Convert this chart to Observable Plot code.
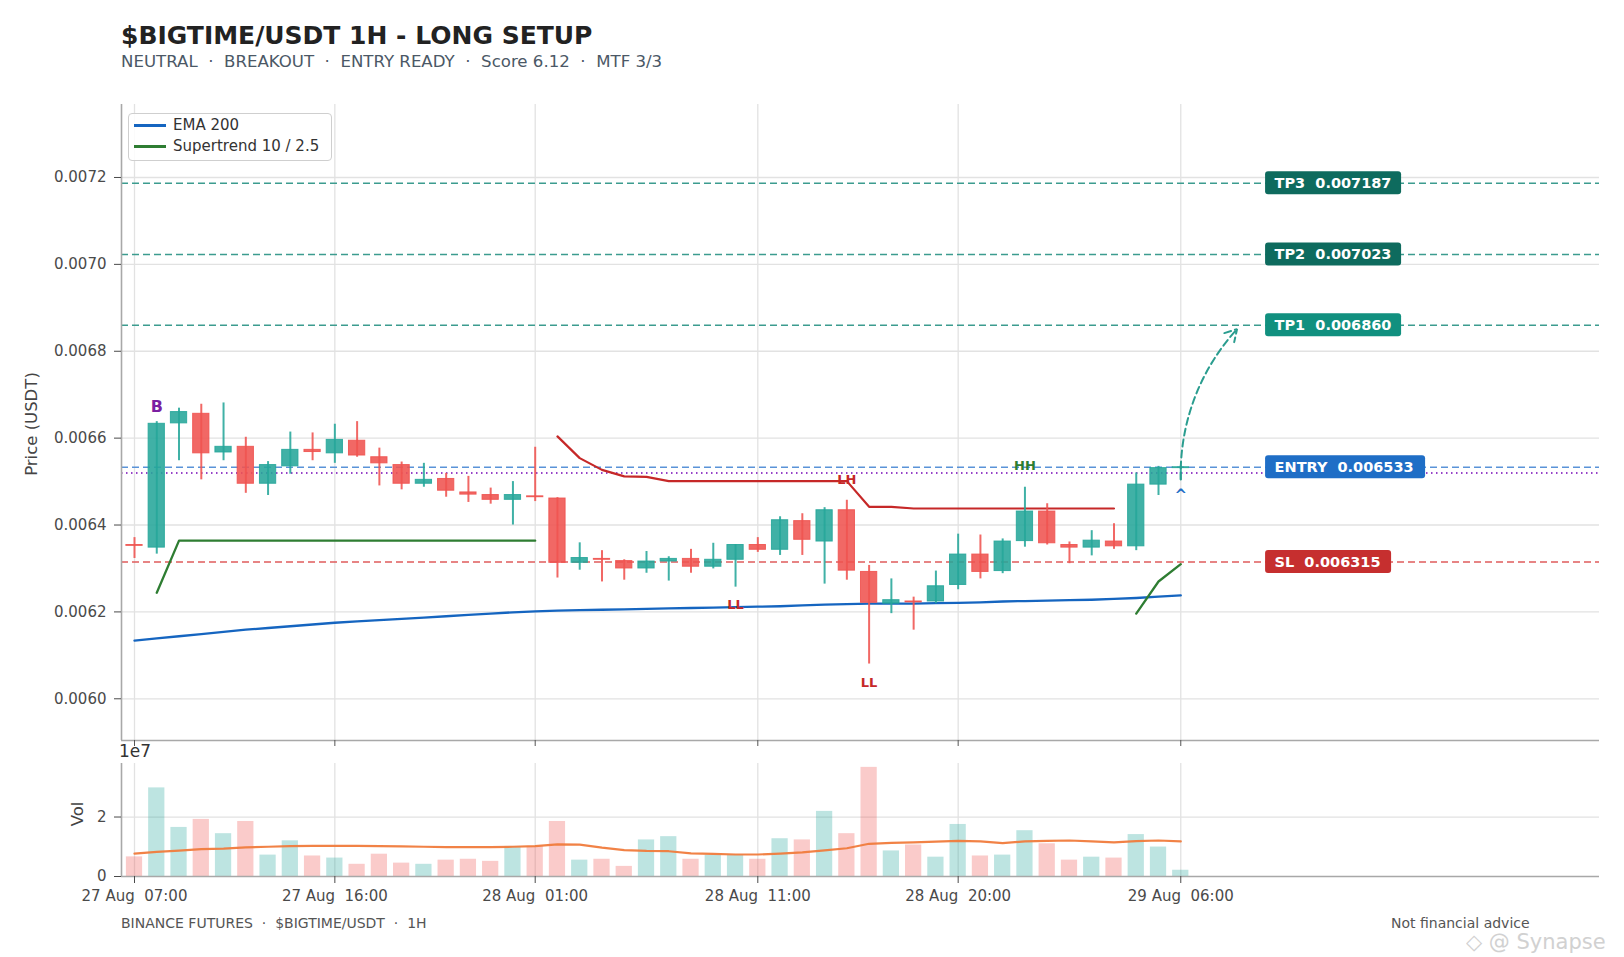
<!DOCTYPE html>
<html>
<head>
<meta charset="utf-8">
<script src="https://cdn.jsdelivr.net/npm/d3@7"></script>
<script src="https://cdn.jsdelivr.net/npm/@observablehq/plot@0.6"></script>
<style>
  body { margin: 0; background: #fff; font-family: "DejaVu Sans", sans-serif; }
  #root { position: relative; width: 1624px; height: 957px; overflow: hidden; background: #fff; }
  .abs { position: absolute; white-space: pre; line-height: 1; }
  .panel { position: absolute; left: 0; }
  .legend { position: absolute; border: 1px solid #cfcfcf; border-radius: 4px; background: rgba(255,255,255,0.85); box-sizing: border-box; }
  .sw { position: absolute; height: 3px; }
  .lt { position: absolute; font-size: 15px; color: #333; line-height: 1; white-space: pre; }
</style>
</head>
<body>
<div id="root">
  <div class="abs" style="left:121px;top:23px;font-size:25px;font-weight:bold;color:#222;">$BIGTIME/USDT 1H - LONG SETUP</div>
  <div class="abs" style="left:121px;top:54px;font-size:16.6px;color:#4b5866;">NEUTRAL  ·  BREAKOUT  ·  ENTRY READY  ·  Score 6.12  ·  MTF 3/3</div>
  <div id="pricePanel" class="panel" style="top:84px;"></div>
  <div id="volPanel" class="panel" style="top:753px;"></div>
  <div class="legend" style="left:128px;top:113px;width:204px;height:48px;">
    <div class="sw" style="left:5px;top:10px;width:32px;background:#1565c0;"></div>
    <div class="lt" style="left:44px;top:4px;">EMA 200</div>
    <div class="sw" style="left:5px;top:31px;width:32px;background:#2e7d32;"></div>
    <div class="lt" style="left:44px;top:25px;">Supertrend 10 / 2.5</div>
  </div>
  <div class="abs" style="left:32px;top:424px;font-size:16.5px;color:#444;transform:translate(-50%,-50%) rotate(-90deg);">Price (USDT)</div>
  <div class="abs" style="left:78px;top:814px;font-size:16.5px;color:#444;transform:translate(-50%,-50%) rotate(-90deg);">Vol</div>
  <div class="abs" style="left:119px;top:743px;font-size:17px;color:#333;">1e7</div>
  <div class="abs" style="left:121px;top:916px;font-size:14px;color:#555;">BINANCE FUTURES  ·  $BIGTIME/USDT  ·  1H</div>
  <div class="abs" style="left:1391px;top:916px;font-size:14px;color:#555;">Not financial advice</div>
  <div class="abs" style="left:1466px;top:932px;font-size:21px;color:#c9c9c9;opacity:0.85;">◇ @ Synapse</div>
</div>
<script>
// ---------- data ----------
const tickIdx = [0, 9, 18, 28, 37, 47];
const tickLabels = ["27 Aug\u00a0 07:00", "27 Aug\u00a0 16:00", "28 Aug\u00a0 01:00", "28 Aug\u00a0 11:00", "28 Aug\u00a0 20:00", "29 Aug\u00a0 06:00"];
const priceTicks = [0.0060, 0.0062, 0.0064, 0.0066, 0.0068, 0.0070, 0.0072];

const opens = [0.006354,0.006348,0.006634,0.006656,0.006567,0.006580,0.006495,0.006535,0.006573,0.006565,
  0.006594,0.006556,0.006538,0.006495,0.006506,0.006475,0.006469,0.006458,0.006466,0.006461,
  0.006313,0.006322,0.006317,0.006300,0.006316,0.006322,0.006304,0.006320,0.006354,0.006343,
  0.006409,0.006362,0.006434,0.006292,0.006219,0.006224,0.006224,0.006262,0.006332,0.006294,
  0.006363,0.006431,0.006354,0.006348,0.006362,0.006351,0.006493,0.006531];
const highs = [0.006371,0.006638,0.006669,0.006678,0.006681,0.006602,0.006546,0.006614,0.006612,0.006632,
  0.006638,0.006577,0.006545,0.006542,0.006519,0.006512,0.006485,0.006500,0.006579,0.006463,
  0.006359,0.006341,0.006320,0.006339,0.006327,0.006344,0.006358,0.006355,0.006371,0.006419,
  0.006426,0.006440,0.006457,0.006307,0.006276,0.006234,0.006294,0.006379,0.006377,0.006368,
  0.006487,0.006449,0.006361,0.006387,0.006403,0.006520,0.006535,0.006536];
const lows = [0.006323,0.006333,0.006548,0.006504,0.006548,0.006473,0.006468,0.006517,0.006548,0.006542,
  0.006556,0.006490,0.006481,0.006487,0.006464,0.006452,0.006448,0.006400,0.006454,0.006278,
  0.006296,0.006269,0.006273,0.006289,0.006271,0.006289,0.006299,0.006257,0.006337,0.006330,
  0.006330,0.006264,0.006273,0.006080,0.006196,0.006158,0.006219,0.006251,0.006276,0.006288,
  0.006349,0.006354,0.006311,0.006329,0.006344,0.006341,0.006468,0.006503];
const closes = [0.006352,0.006633,0.006660,0.006565,0.006580,0.006495,0.006538,0.006573,0.006568,0.006596,
  0.006560,0.006542,0.006495,0.006504,0.006479,0.006470,0.006458,0.006469,0.006464,0.006313,
  0.006324,0.006320,0.006300,0.006316,0.006322,0.006304,0.006320,0.006354,0.006343,0.006411,
  0.006366,0.006434,0.006295,0.006221,0.006227,0.006222,0.006259,0.006332,0.006292,0.006362,
  0.006431,0.006358,0.006348,0.006364,0.006351,0.006493,0.006531,0.006533];
const volumes = [6.6e6,2.98e7,1.65e7,1.92e7,1.44e7,1.85e7,7.2e6,1.20e7,6.9e6,6.2e6,
  4.1e6,7.5e6,4.5e6,4.1e6,5.5e6,5.8e6,5.1e6,1.01e7,1.01e7,1.85e7,
  5.5e6,5.8e6,3.4e6,1.23e7,1.34e7,5.8e6,7.2e6,7.2e6,5.8e6,1.27e7,
  1.23e7,2.19e7,1.44e7,3.67e7,8.6e6,1.06e7,6.5e6,1.75e7,6.9e6,7.2e6,
  1.54e7,1.10e7,5.5e6,6.5e6,6.2e6,1.41e7,9.9e6,2.1e6];
const volMA = [7.7e6,8.3e6,8.7e6,9.2e6,9.4e6,9.8e6,1.0e7,1.02e7,1.03e7,1.03e7,
  1.03e7,1.02e7,1.01e7,1.0e7,9.9e6,9.9e6,9.9e6,1.0e7,1.02e7,1.08e7,
  1.07e7,9.7e6,8.9e6,8.6e6,8.5e6,7.8e6,7.6e6,7.4e6,7.4e6,7.7e6,
  8.1e6,8.8e6,9.5e6,1.10e7,1.13e7,1.15e7,1.17e7,1.20e7,1.18e7,1.12e7,
  1.18e7,1.20e7,1.21e7,1.18e7,1.15e7,1.19e7,1.21e7,1.18e7];
const ema200 = [0.006134,0.006139,0.006144,0.006149,0.006154,0.006159,0.006163,0.006167,0.006171,0.006175,
  0.006178,0.006181,0.006184,0.006187,0.006190,0.006193,0.006196,0.006199,0.006201,0.006203,
  0.006204,0.006205,0.006206,0.006207,0.006208,0.006209,0.006210,0.006211,0.006212,0.006213,
  0.006215,0.006217,0.006218,0.006219,0.006219,0.006219,0.006220,0.006221,0.006222,0.006224,
  0.006225,0.006226,0.006227,0.006228,0.006230,0.006232,0.006235,0.006238];
const N = null;
const stUp = [N,0.006244,0.006364,0.006364,0.006364,0.006364,0.006364,0.006364,0.006364,0.006364,
  0.006364,0.006364,0.006364,0.006364,0.006364,0.006364,0.006364,0.006364,0.006364,N,
  N,N,N,N,N,N,N,N,N,N, N,N,N,N,N,N,N,N,N,N, N,N,N,N,N,0.006196,0.006270,0.006310];
const stDown = [N,N,N,N,N,N,N,N,N,N, N,N,N,N,N,N,N,N,N,0.006604,
  0.006554,0.006527,0.006512,0.006511,0.006501,0.006501,0.006501,0.006501,0.006501,0.006501,
  0.006501,0.006501,0.006501,0.006442,0.006442,0.006438,0.006438,0.006438,0.006438,0.006438,
  0.006438,0.006438,0.006438,0.006438,0.006438,N,N,N];

const levelNames = ["TP3", "TP2", "TP1", "ENTRY", "SL"];
const levelValues = [0.007187, 0.007023, 0.006860, 0.006533, 0.006315];
const breakoutLevel = 0.006520;

const swingLabels = ["B", "LH", "LL", "LL", "HH"];
const swingIdx = [1, 32, 27, 33, 40];
const swingPrice = [0.006673, 0.006504, 0.006217, 0.006037, 0.006536];

// ---------- styling / layout ----------
const UP = "#26a69a", DN = "#ef5350";
const xDomain = [-0.584, 65.81];
const priceDomain = [0.005904, 0.007368];
const volDomain = [0, 3.8e7];
const pxPerIdx = 22.26;
const pxPerPrice = 434500;
const half = 0.365;

const idx = d3.range(opens.length);
const candles = idx.map(i => ({
  i, o: opens[i], h: highs[i], l: lows[i], c: closes[i], v: volumes[i], ma: volMA[i],
  ema: ema200[i], up: stUp[i], dn: stDown[i], col: closes[i] >= opens[i] ? UP : DN
}));

const lineColors = {TP3: "#3c9c8f", TP2: "#3c9c8f", TP1: "#3c9c8f", ENTRY: "#5a93d8", SL: "#e05c5c"};
const boxColors = {TP3: "#0e6b5e", TP2: "#0e6b5e", TP1: "#11907f", ENTRY: "#1f6ec6", SL: "#c62f2f"};
const boxWidthPx = {TP3: 136, TP2: 136, TP1: 136, ENTRY: 160, SL: 126};
const boxX = 50.81;
const boxHalf = 11.5 / pxPerPrice;
const levels = levelNames.map((name, k) => ({
  name, value: levelValues[k], line: lineColors[name], box: boxColors[name], w: boxWidthPx[name] / pxPerIdx
}));
const swingColors = {B: "#7b1fa2", LH: "#c62828", LL: "#c62828", HH: "#2e7d32"};
const swings = swingLabels.map((t, k) => ({t, x: swingIdx[k], y: swingPrice[k], col: swingColors[t], size: t === "B" ? 16 : 13}));

const baseStyle = {fontFamily: "DejaVu Sans", fontSize: "15px", color: "#444", background: "transparent", overflow: "visible"};

const price = Plot.plot({
  width: 1624, height: 676,
  marginLeft: 121, marginRight: 25, marginTop: 20, marginBottom: 20,
  x: {type: "linear", domain: xDomain},
  y: {type: "linear", domain: priceDomain},
  style: baseStyle,
  marks: [
    Plot.gridY(priceTicks, {stroke: "#e2e2e2", strokeOpacity: 1, strokeWidth: 1.3}),
    Plot.gridX(tickIdx, {stroke: "#e2e2e2", strokeOpacity: 1, strokeWidth: 1.3}),
    Plot.ruleY(levels, {y: "value", stroke: "line", strokeWidth: 1.5, strokeDasharray: "7,4"}),
    Plot.ruleY([breakoutLevel], {stroke: "#9642c8", strokeWidth: 2, strokeDasharray: "1.5,3.5"}),
    Plot.line(candles, {x: "i", y: "ema", stroke: "#1565c0", strokeWidth: 2.3}),
    Plot.line(candles, {x: "i", y: "up", stroke: "#2e7d32", strokeWidth: 2.3}),
    Plot.line(candles, {x: "i", y: "dn", stroke: "#c62828", strokeWidth: 2.2}),
    Plot.ruleX(candles, {x: "i", y1: "l", y2: "h", stroke: "col", strokeWidth: 2, strokeOpacity: 0.88}),
    Plot.rect(candles, {
      x1: d => d.i - half, x2: d => d.i + half,
      y1: d => Math.min(d.o, d.c), y2: d => Math.max(d.o, d.c),
      fill: "col", stroke: "col", strokeWidth: 1, fillOpacity: 0.88, strokeOpacity: 0.88
    }),
    Plot.arrow([{x1: 47, y1: 0.006505, x2: 49.53, y2: 0.006851}], {
      x1: "x1", y1: "y1", x2: "x2", y2: "y2", bend: 22,
      stroke: "#2a9d8f", strokeWidth: 2, strokeDasharray: "7,4", headLength: 10, headAngle: 60
    }),
    Plot.text([{x: 47, y: 0.006469}], {x: "x", y: "y", text: () => "^", fill: "#1f6ec6", fontSize: 15, fontWeight: "bold"}),
    Plot.text(swings, {x: "x", y: "y", text: "t", fill: "col", fontSize: "size", fontWeight: "bold"}),
    Plot.rect(levels, {
      x1: boxX, x2: d => boxX + d.w,
      y1: d => d.value - boxHalf, y2: d => d.value + boxHalf,
      fill: "box", rx: 3
    }),
    Plot.text(levels, {
      x: boxX + 9 / pxPerIdx, y: "value",
      text: d => d.name + "\u00a0 " + d.value.toFixed(6),
      fill: "white", fontWeight: "bold", fontSize: 14.5, textAnchor: "start"
    }),
    Plot.ruleX([xDomain[0]], {stroke: "#a8a8a8", strokeWidth: 1.6}),
    Plot.ruleY([priceDomain[0]], {stroke: "#a8a8a8", strokeWidth: 1.6}),
    Plot.axisY({ticks: priceTicks, tickFormat: d3.format(".4f"), tickSize: 7, tickPadding: 8, fontSize: 15, color: "#4a4a4a", label: null}),
    Plot.axisX({ticks: tickIdx, tickFormat: () => "", tickSize: 6, color: "#555", label: null})
  ]
});
document.getElementById("pricePanel").appendChild(price);

const vol = Plot.plot({
  width: 1624, height: 163,
  marginLeft: 121, marginRight: 25, marginTop: 10, marginBottom: 40,
  x: {type: "linear", domain: xDomain},
  y: {type: "linear", domain: volDomain},
  style: baseStyle,
  marks: [
    Plot.gridY([2e7], {stroke: "#e2e2e2", strokeOpacity: 1, strokeWidth: 1.3}),
    Plot.gridX(tickIdx, {stroke: "#e2e2e2", strokeOpacity: 1, strokeWidth: 1.3}),
    Plot.rect(candles, {x1: d => d.i - half, x2: d => d.i + half, y1: 0, y2: "v", fill: "col", fillOpacity: 0.3}),
    Plot.line(candles, {x: "i", y: "ma", stroke: "#f07b3c", strokeWidth: 2.2, strokeOpacity: 0.95}),
    Plot.ruleX([xDomain[0]], {stroke: "#a8a8a8", strokeWidth: 1.6}),
    Plot.ruleY([0], {stroke: "#a8a8a8", strokeWidth: 1.6}),
    Plot.axisY({ticks: [0, 2e7], tickFormat: d => String(d / 1e7), tickSize: 7, tickPadding: 8, fontSize: 15, color: "#4a4a4a", label: null}),
    Plot.axisX({ticks: tickIdx, tickFormat: i => tickLabels[tickIdx.indexOf(i)], tickSize: 7, tickPadding: 7, fontSize: 15, color: "#4a4a4a", label: null})
  ]
});
document.getElementById("volPanel").appendChild(vol);
</script>
</body>
</html>
